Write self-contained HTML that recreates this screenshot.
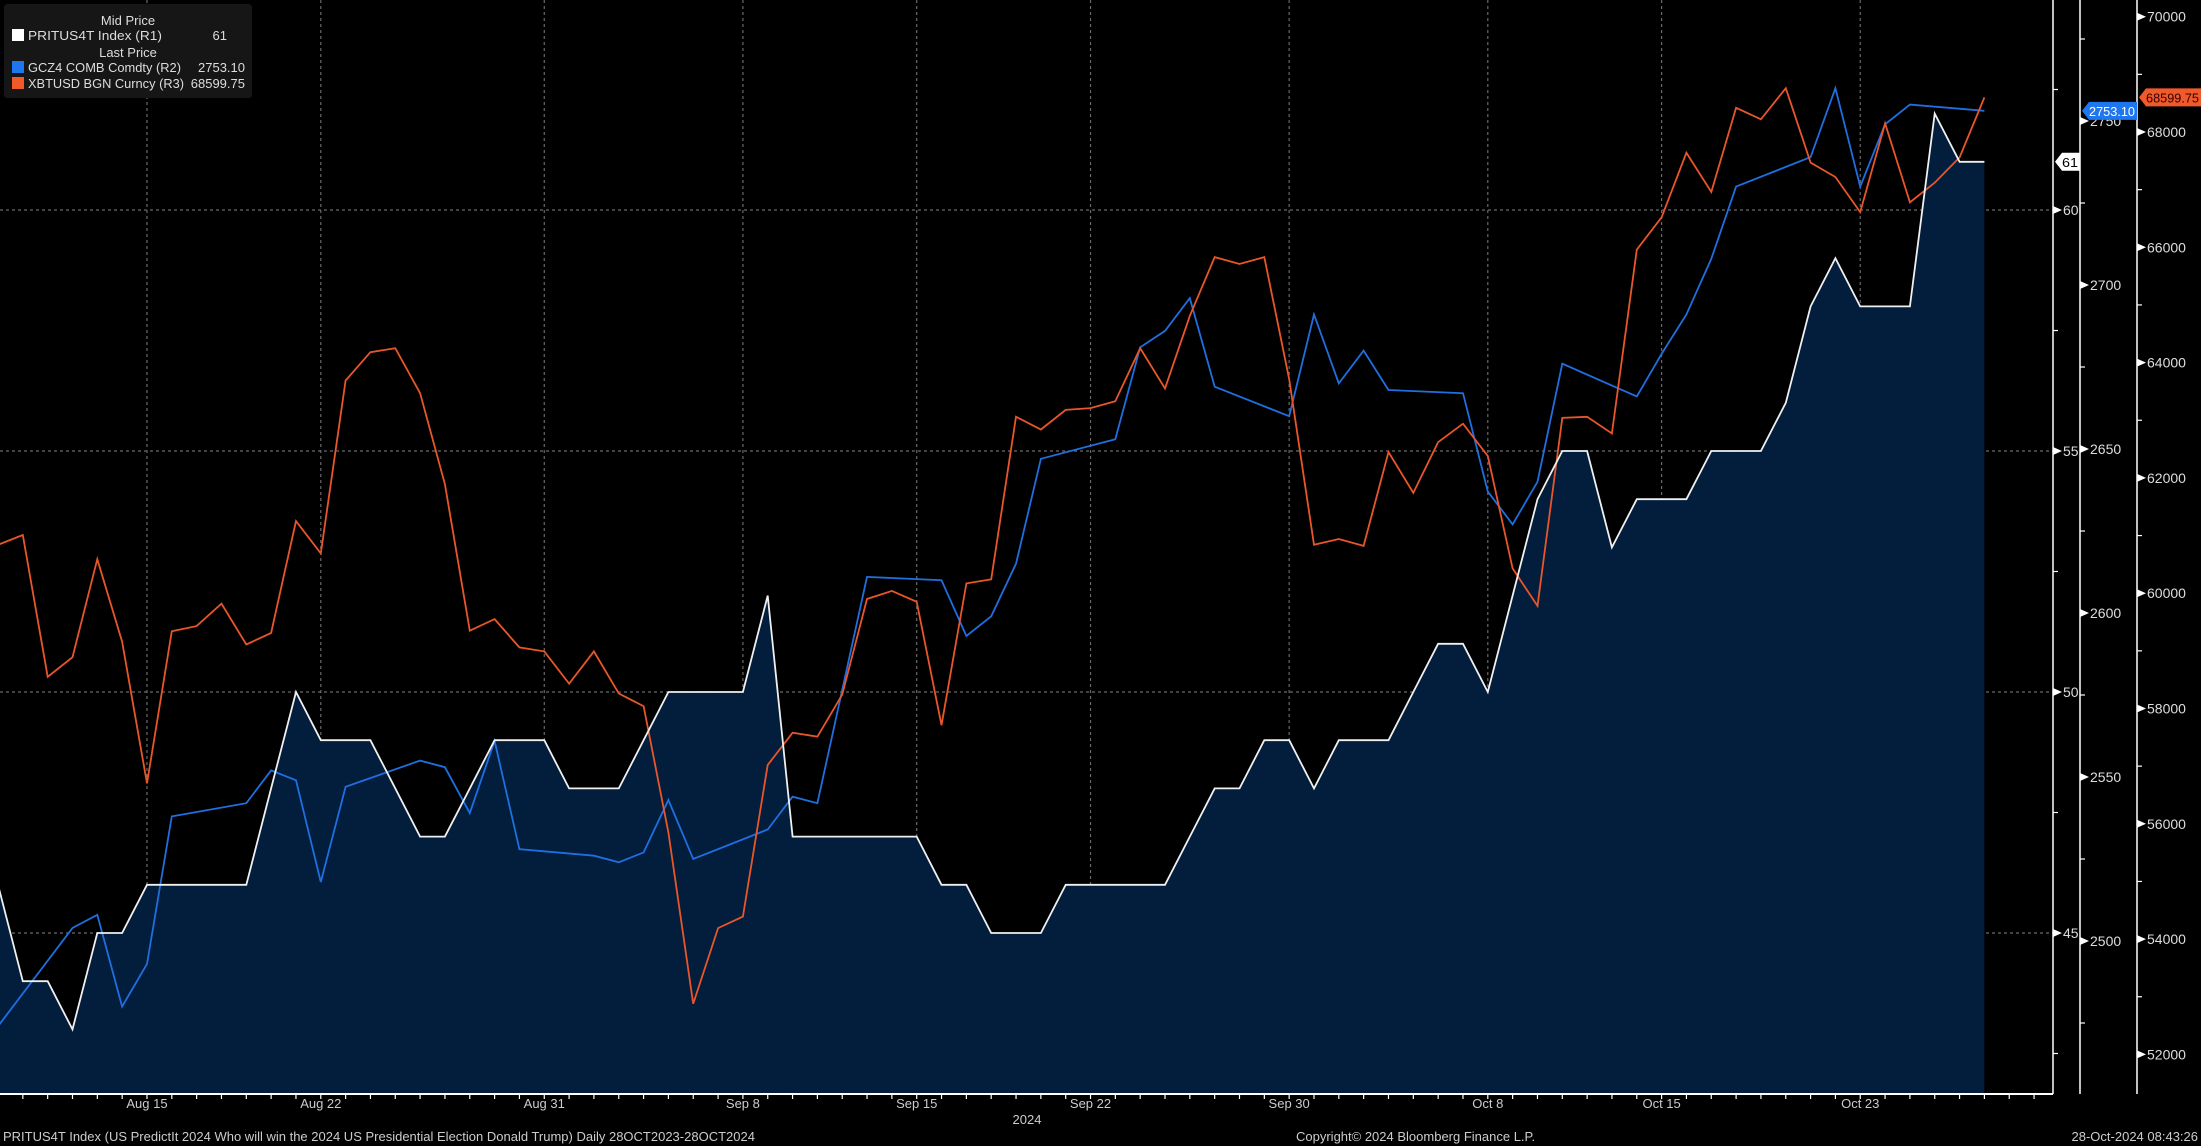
<!DOCTYPE html>
<html><head><meta charset="utf-8"><style>
html,body{margin:0;padding:0;background:#000;}
svg{display:block;font-family:"Liberation Sans",sans-serif;}
</style></head><body>
<svg id="chart" width="2201" height="1146" viewBox="0 0 2201 1146" xmlns="http://www.w3.org/2000/svg">
<rect x="0" y="0" width="2201" height="1146" fill="#000"/>
<g id="grid"></g>
<g id="area"></g>
<g id="lines"></g>
<g id="axes"></g>
<g id="legend">
  <rect x="4" y="4" width="248" height="94" fill="#161616" rx="3"/>
  <text x="128" y="25" fill="#ddd" font-size="13" text-anchor="middle">Mid Price</text>
  <rect x="12" y="29" width="12" height="12" fill="#fff"/>
  <text x="28" y="40" fill="#ddd" font-size="13" textLength="134" lengthAdjust="spacingAndGlyphs">PRITUS4T Index  (R1)</text>
  <text x="227" y="40" fill="#ddd" font-size="13" text-anchor="end">61</text>
  <text x="128" y="57" fill="#ddd" font-size="13" text-anchor="middle">Last Price</text>
  <rect x="12" y="61" width="12" height="12" fill="#1f77f0"/>
  <text x="28" y="72" fill="#ddd" font-size="13" textLength="153" lengthAdjust="spacingAndGlyphs">GCZ4 COMB Comdty  (R2)</text>
  <text x="245" y="72" fill="#ddd" font-size="13" text-anchor="end">2753.10</text>
  <rect x="12" y="77" width="12" height="12" fill="#f05a2a"/>
  <text x="28" y="88" fill="#ddd" font-size="13" textLength="156" lengthAdjust="spacingAndGlyphs">XBTUSD BGN Curncy  (R3)</text>
  <text x="245" y="88" fill="#ddd" font-size="13" text-anchor="end">68599.75</text>
</g>
<text x="1027" y="1124" fill="#ccc" font-size="13" text-anchor="middle">2024</text>
<text x="3" y="1141" fill="#ccc" font-size="13">PRITUS4T Index (US PredictIt 2024 Who will win the 2024 US Presidential Election Donald Trump)  Daily 28OCT2023-28OCT2024</text>
<text x="1296" y="1141" fill="#ccc" font-size="13">Copyright© 2024 Bloomberg Finance L.P.</text>
<text x="2198" y="1141" fill="#ccc" font-size="13" text-anchor="end">28-Oct-2024 08:43:26</text>
</svg>
<script>
// ---- data (day index from Fri Aug 9, 2024) ----
const trumpDays = [];
for (let i = 0; i <= 80; i++) trumpDays.push(i);
const trumpValues = [46,44,44,43,45,45,46,46,46,46,46,48,50,49,49,49,48,47,47,48,49,49,49,48,48,48,49,50,50,50,50,52,47,47,47,47,47,47,46,46,45,45,45,46,46,46,46,46,47,48,48,49,49,48,49,49,49,50,51,51,50,52,54,55,55,53,54,54,54,55,55,55,56,58,59,58,58,58,62,61,61];
const goldDays = [0,3,4,5,6,7,10,11,12,13,14,17,18,19,20,21,24,25,26,27,28,31,32,33,35,38,39,40,41,42,45,46,47,48,49,52,53,54,55,56,59,60,61,62,63,66,67,68,69,70,73,74,75,76,77,80];
const goldValues = [2474,2504,2508,2480,2493,2538,2542,2552,2549,2518,2547,2555,2553,2539,2561,2528,2526,2524,2527,2543,2525,2534,2544,2542,2611,2610,2593,2599,2615,2647,2653,2681,2686,2696,2669,2660,2691,2670,2680,2668,2667,2637,2627,2640,2676,2666,2679,2691,2708,2730,2739,2760,2730,2749,2755,2753.1];
const btcValues = [60840,61010,58550,58890,60590,59160,56700,59340,59430,59820,59110,59310,61250,60690,63690,64180,64250,63470,61890,59350,59550,59060,58990,58430,58990,58260,58040,55850,52880,54190,54390,57020,57580,57510,58240,59900,60040,59850,57710,60170,60240,63060,62840,63180,63210,63330,64250,63550,64810,65830,65710,65830,63710,60840,60940,60820,62450,61740,62620,62940,62380,60430,59780,63040,63060,62770,65960,66520,67640,66960,68420,68220,68760,67470,67220,66610,68150,66780,67120,67560,68599.75];
const dateLabels = ["Aug 15","Aug 22","Aug 31","Sep 8","Sep 15","Sep 22","Sep 30","Oct 8","Oct 15","Oct 23"];
const dateDays = [6,13,22,30,37,44,52,60,67,75];
const r1Ticks = [60,55,50,45];
const r2Ticks = [2750,2700,2650,2600,2550,2500];
const r3Ticks = [70000,68000,66000,64000,62000,60000,58000,56000,54000,52000];

// ---- scales ----
const X0 = -2, DX = 24.83, PLOT_R = 2053, PLOT_B = 1094;
const xS = d => X0 + DX * d;
const y1 = v => 210 + (60 - v) * 48.2;
const y2 = v => 285 + (2700 - v) * 3.28;
const y3 = v => 16.7 + (70000 - v) * 0.05765;
const NS = "http://www.w3.org/2000/svg";
function mk(tag, attrs, parent) {
  const e = document.createElementNS(NS, tag);
  for (const k in attrs) e.setAttribute(k, attrs[k]);
  parent.appendChild(e);
  return e;
}
const grid = document.getElementById('grid');
const area = document.getElementById('area');
const lines = document.getElementById('lines');
const axes = document.getElementById('axes');

r1Ticks.forEach(v => {
  const l = mk('line', {x1:0, x2:PLOT_R, y1:y1(v), y2:y1(v), stroke:'#6a6a6a', 'stroke-width':1.2, 'stroke-dasharray':'3,3'}, grid);
  
  
});
dateDays.forEach((d, i) => {
  const l = mk('line', {x1:xS(d), x2:xS(d), y1:0, y2:PLOT_B, stroke:'#6a6a6a', 'stroke-width':1.2, 'stroke-dasharray':'3,3'}, grid);
  
  
  const t = mk('text', {x:xS(d), y:1108, fill:'#ccc', 'font-size':13, 'text-anchor':'middle'}, axes);
  t.textContent = dateLabels[i];
  
  
});

let pts = trumpDays.map((d, i) => xS(d).toFixed(1) + ',' + y1(trumpValues[i]).toFixed(1));
const last = trumpDays[trumpDays.length - 1];
const poly = mk('polygon', {points: xS(0) + ',' + PLOT_B + ' ' + pts.join(' ') + ' ' + xS(last) + ',' + PLOT_B, fill:'#031d3c'}, area);


const gl = mk('polyline', {points: goldDays.map((d, i) => xS(d).toFixed(1) + ',' + y2(goldValues[i]).toFixed(1)).join(' '), fill:'none', stroke:'#1f6fe0', 'stroke-width':1.8}, lines);


const bl = mk('polyline', {points: btcValues.map((v, i) => xS(i).toFixed(1) + ',' + y3(v).toFixed(1)).join(' '), fill:'none', stroke:'#e8562a', 'stroke-width':1.8}, lines);


const wl = mk('polyline', {points: pts.join(' '), fill:'none', stroke:'#f0f0f0', 'stroke-width':1.8}, lines);



const bx = mk('line', {x1:0, x2:PLOT_R, y1:PLOT_B, y2:PLOT_B, stroke:'#fff', 'stroke-width':2}, axes);


for (let d = 0; d <= 82; d++) {
  const tk = mk('line', {x1:xS(d), x2:xS(d), y1:PLOT_B, y2:PLOT_B + 5, stroke:'#fff', 'stroke-width':1.2}, axes);
  
  
}
[2053, 2080, 2137].forEach(x => {
  const l = mk('line', {x1:x, x2:x, y1:0, y2:PLOT_B, stroke:'#fff', 'stroke-width':1.5}, axes);
  
  
});
function axisLabels(ticks, scale, ax, minorStep, lo, hi) {
  for (let v = lo; v <= hi; v += minorStep) {
    const y = scale(v);
    if (y < 0 || y > PLOT_B) continue;
    const m = mk('line', {x1:ax, x2:ax + 5, y1:y, y2:y, stroke:'#fff', 'stroke-width':1.2}, axes);
    
    
  }
  ticks.forEach(v => {
    const y = scale(v);
    const a = mk('polygon', {points: ax + ',' + (y - 4) + ' ' + (ax + 9) + ',' + y + ' ' + ax + ',' + (y + 4), fill:'#fff'}, axes);
    
    
    const t = mk('text', {x:ax + 10, y:y + 5, fill:'#ddd', 'font-size':14}, axes);
    t.textContent = v;
    
    
  });
}
axisLabels(r1Ticks, y1, 2053, 2.5, 40, 65);
axisLabels(r2Ticks, y2, 2080, 25, 2400, 2800);
axisLabels(r3Ticks, y3, 2137, 1000, 50000, 71000);

function tag(x, w, y, color, txtColor, label, name) {
  const g = mk('g', {}, axes);
  
  
  mk('polygon', {points: x + ',' + y + ' ' + (x + 7) + ',' + (y - 9) + ' ' + (x + w) + ',' + (y - 9) + ' ' + (x + w) + ',' + (y + 9) + ' ' + (x + 7) + ',' + (y + 9), fill:color}, g);
  const t = mk('text', {x:x + 7, y:y + 5, fill:txtColor, 'font-size':13, textLength:w - 9, lengthAdjust:'spacingAndGlyphs'}, g);
  t.textContent = label;
}
tag(2055, 25, y1(trumpValues[trumpValues.length - 1]), '#fff', '#000', '61', 'trump-value-tag');
tag(2082, 55, y2(goldValues[goldValues.length - 1]), '#1f77f0', '#fff', '2753.10', 'gold-value-tag');
tag(2139, 62, y3(btcValues[btcValues.length - 1]), '#f05a2a', '#300', '68599.75', 'btc-value-tag');
</script>
</body></html>
